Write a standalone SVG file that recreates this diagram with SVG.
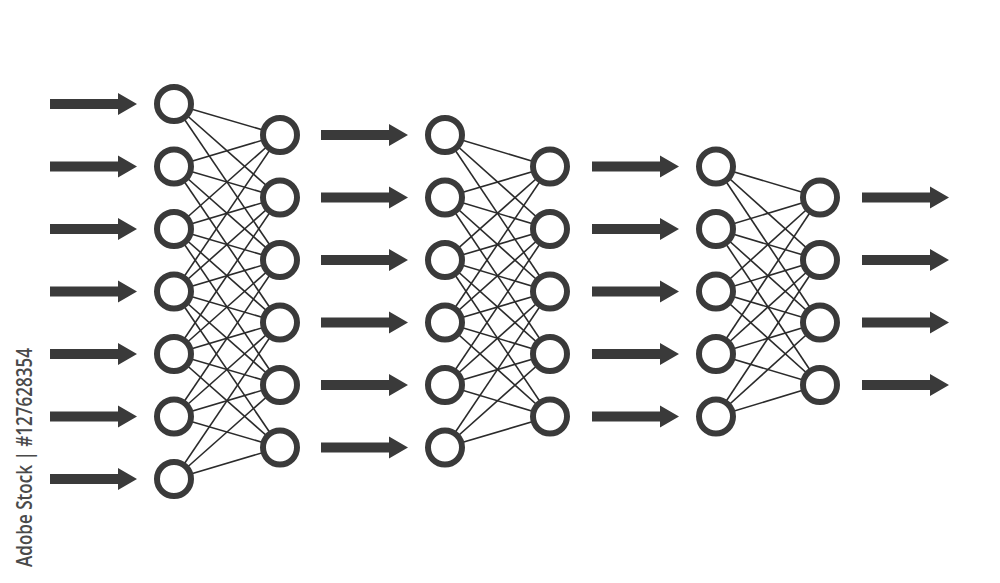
<svg xmlns="http://www.w3.org/2000/svg" width="1000" height="583" viewBox="0 0 1000 583">
<style>
.bg{fill:#ffffff}
.n{fill:#ffffff;stroke:#3a3a3a;stroke-width:6}
.c line{stroke:#2b2b2b;stroke-width:1.6}
.a{fill:#3a3a3a}
.t{font-family:"Open Sans","Liberation Sans",sans-serif;font-size:21px;font-weight:600;fill:#4a4a4a}
</style>
<defs>
<path id="arr" d="M0,-5 H68 V-11 L87,0 L68,11 V5 H0 Z"/>
</defs>
<rect class="bg" x="0" y="0" width="1000" height="583"/>
<g id="connectors" class="c">
<line x1="174" y1="104" x2="280" y2="135"/><line x1="174" y1="104" x2="280" y2="197.5"/><line x1="174" y1="104" x2="280" y2="260"/>
<line x1="174" y1="166.5" x2="280" y2="135"/><line x1="174" y1="166.5" x2="280" y2="197.5"/><line x1="174" y1="166.5" x2="280" y2="260"/><line x1="174" y1="166.5" x2="280" y2="322.5"/>
<line x1="174" y1="229" x2="280" y2="135"/><line x1="174" y1="229" x2="280" y2="197.5"/><line x1="174" y1="229" x2="280" y2="260"/><line x1="174" y1="229" x2="280" y2="322.5"/><line x1="174" y1="229" x2="280" y2="385"/>
<line x1="174" y1="291.5" x2="280" y2="135"/><line x1="174" y1="291.5" x2="280" y2="197.5"/><line x1="174" y1="291.5" x2="280" y2="260"/><line x1="174" y1="291.5" x2="280" y2="322.5"/><line x1="174" y1="291.5" x2="280" y2="385"/><line x1="174" y1="291.5" x2="280" y2="447.5"/>
<line x1="174" y1="354" x2="280" y2="197.5"/><line x1="174" y1="354" x2="280" y2="260"/><line x1="174" y1="354" x2="280" y2="322.5"/><line x1="174" y1="354" x2="280" y2="385"/><line x1="174" y1="354" x2="280" y2="447.5"/>
<line x1="174" y1="416.5" x2="280" y2="260"/><line x1="174" y1="416.5" x2="280" y2="322.5"/><line x1="174" y1="416.5" x2="280" y2="385"/><line x1="174" y1="416.5" x2="280" y2="447.5"/>
<line x1="174" y1="479" x2="280" y2="322.5"/><line x1="174" y1="479" x2="280" y2="385"/><line x1="174" y1="479" x2="280" y2="447.5"/>

<line x1="445" y1="135" x2="550" y2="166.5"/><line x1="445" y1="135" x2="550" y2="229"/><line x1="445" y1="135" x2="550" y2="291.5"/>
<line x1="445" y1="197.5" x2="550" y2="166.5"/><line x1="445" y1="197.5" x2="550" y2="229"/><line x1="445" y1="197.5" x2="550" y2="291.5"/><line x1="445" y1="197.5" x2="550" y2="354"/>
<line x1="445" y1="260" x2="550" y2="166.5"/><line x1="445" y1="260" x2="550" y2="229"/><line x1="445" y1="260" x2="550" y2="291.5"/><line x1="445" y1="260" x2="550" y2="354"/><line x1="445" y1="260" x2="550" y2="416.5"/>
<line x1="445" y1="322.5" x2="550" y2="166.5"/><line x1="445" y1="322.5" x2="550" y2="229"/><line x1="445" y1="322.5" x2="550" y2="291.5"/><line x1="445" y1="322.5" x2="550" y2="354"/><line x1="445" y1="322.5" x2="550" y2="416.5"/>
<line x1="445" y1="385" x2="550" y2="229"/><line x1="445" y1="385" x2="550" y2="291.5"/><line x1="445" y1="385" x2="550" y2="354"/><line x1="445" y1="385" x2="550" y2="416.5"/>
<line x1="445" y1="447.5" x2="550" y2="291.5"/><line x1="445" y1="447.5" x2="550" y2="354"/><line x1="445" y1="447.5" x2="550" y2="416.5"/>

<line x1="716" y1="166.5" x2="820" y2="197.5"/><line x1="716" y1="166.5" x2="820" y2="260"/><line x1="716" y1="166.5" x2="820" y2="322.5"/>
<line x1="716" y1="229" x2="820" y2="197.5"/><line x1="716" y1="229" x2="820" y2="260"/><line x1="716" y1="229" x2="820" y2="322.5"/><line x1="716" y1="229" x2="820" y2="385"/>
<line x1="716" y1="291.5" x2="820" y2="197.5"/><line x1="716" y1="291.5" x2="820" y2="260"/><line x1="716" y1="291.5" x2="820" y2="322.5"/><line x1="716" y1="291.5" x2="820" y2="385"/>
<line x1="716" y1="354" x2="820" y2="197.5"/><line x1="716" y1="354" x2="820" y2="260"/><line x1="716" y1="354" x2="820" y2="322.5"/><line x1="716" y1="354" x2="820" y2="385"/>
<line x1="716" y1="416.5" x2="820" y2="260"/><line x1="716" y1="416.5" x2="820" y2="322.5"/><line x1="716" y1="416.5" x2="820" y2="385"/>
</g>
<g id="arrows" class="a">
<use href="#arr" x="50" y="104"/><use href="#arr" x="50" y="166.5"/><use href="#arr" x="50" y="229"/><use href="#arr" x="50" y="291.5"/><use href="#arr" x="50" y="354"/><use href="#arr" x="50" y="416.5"/><use href="#arr" x="50" y="479"/>
<use href="#arr" x="321" y="135"/><use href="#arr" x="321" y="197.5"/><use href="#arr" x="321" y="260"/><use href="#arr" x="321" y="322.5"/><use href="#arr" x="321" y="385"/><use href="#arr" x="321" y="447.5"/>
<use href="#arr" x="592" y="166.5"/><use href="#arr" x="592" y="229"/><use href="#arr" x="592" y="291.5"/><use href="#arr" x="592" y="354"/><use href="#arr" x="592" y="416.5"/>
<use href="#arr" x="862" y="197.5"/><use href="#arr" x="862" y="260"/><use href="#arr" x="862" y="322.5"/><use href="#arr" x="862" y="385"/>
</g>
<g id="layer1-in">
<g id="n1-1"><circle class="n" cx="174" cy="104" r="17"/></g>
<g id="n1-2"><circle class="n" cx="174" cy="166.5" r="17"/></g>
<g id="n1-3"><circle class="n" cx="174" cy="229" r="17"/></g>
<g id="n1-4"><circle class="n" cx="174" cy="291.5" r="17"/></g>
<g id="n1-5"><circle class="n" cx="174" cy="354" r="17"/></g>
<g id="n1-6"><circle class="n" cx="174" cy="416.5" r="17"/></g>
<g id="n1-7"><circle class="n" cx="174" cy="479" r="17"/></g>
</g>
<g id="layer1-out">
<g id="n2-1"><circle class="n" cx="280" cy="135" r="17"/></g>
<g id="n2-2"><circle class="n" cx="280" cy="197.5" r="17"/></g>
<g id="n2-3"><circle class="n" cx="280" cy="260" r="17"/></g>
<g id="n2-4"><circle class="n" cx="280" cy="322.5" r="17"/></g>
<g id="n2-5"><circle class="n" cx="280" cy="385" r="17"/></g>
<g id="n2-6"><circle class="n" cx="280" cy="447.5" r="17"/></g>
</g>
<g id="layer2-in">
<g id="n3-1"><circle class="n" cx="445" cy="135" r="17"/></g>
<g id="n3-2"><circle class="n" cx="445" cy="197.5" r="17"/></g>
<g id="n3-3"><circle class="n" cx="445" cy="260" r="17"/></g>
<g id="n3-4"><circle class="n" cx="445" cy="322.5" r="17"/></g>
<g id="n3-5"><circle class="n" cx="445" cy="385" r="17"/></g>
<g id="n3-6"><circle class="n" cx="445" cy="447.5" r="17"/></g>
</g>
<g id="layer2-out">
<g id="n4-1"><circle class="n" cx="550" cy="166.5" r="17"/></g>
<g id="n4-2"><circle class="n" cx="550" cy="229" r="17"/></g>
<g id="n4-3"><circle class="n" cx="550" cy="291.5" r="17"/></g>
<g id="n4-4"><circle class="n" cx="550" cy="354" r="17"/></g>
<g id="n4-5"><circle class="n" cx="550" cy="416.5" r="17"/></g>
</g>
<g id="layer3-in">
<g id="n5-1"><circle class="n" cx="716" cy="166.5" r="17"/></g>
<g id="n5-2"><circle class="n" cx="716" cy="229" r="17"/></g>
<g id="n5-3"><circle class="n" cx="716" cy="291.5" r="17"/></g>
<g id="n5-4"><circle class="n" cx="716" cy="354" r="17"/></g>
<g id="n5-5"><circle class="n" cx="716" cy="416.5" r="17"/></g>
</g>
<g id="layer3-out">
<g id="n6-1"><circle class="n" cx="820" cy="197.5" r="17"/></g>
<g id="n6-2"><circle class="n" cx="820" cy="260" r="17"/></g>
<g id="n6-3"><circle class="n" cx="820" cy="322.5" r="17"/></g>
<g id="n6-4"><circle class="n" cx="820" cy="385" r="17"/></g>
</g>
<text class="t" transform="translate(32,567) rotate(-90)" textLength="219" lengthAdjust="spacingAndGlyphs">Adobe Stock | #127628354</text>
</svg>
